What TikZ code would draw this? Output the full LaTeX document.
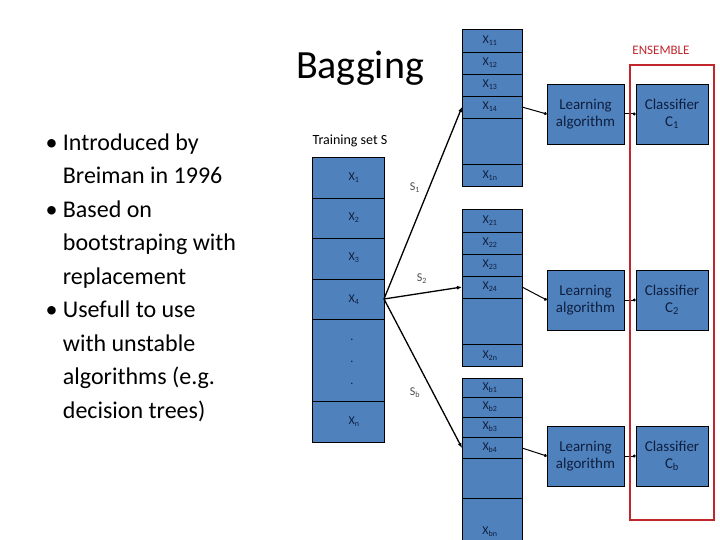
\documentclass[tikz,border=0pt]{standalone}
\usepackage{fontspec}
\setmainfont{Carlito}
\usetikzlibrary{arrows.meta}
\definecolor{bbox}{HTML}{4F81BD}
\definecolor{btxt}{HTML}{0F1F3F}
\definecolor{ered}{HTML}{C0272D}
\begin{document}
\begin{tikzpicture}[x=1pt,y=-1pt,
  cell/.style={draw=black,fill=bbox,line width=0.6pt},
  ctext/.style={text=btxt,font=\fontsize{12}{12}\selectfont},
  abox/.style={draw=black,fill=bbox,line width=0.6pt,minimum width=77pt,minimum height=60pt,align=center,text=btxt,font=\fontsize{15}{17}\selectfont,inner sep=1pt},
  cbox/.style={abox,minimum width=72pt},
  arr/.style={-{Latex[length=5pt,width=4pt]},line width=1.3pt},
  sarr/.style={-{Circle[length=3pt]},line width=1pt}]
\useasboundingbox (0,0) rectangle (720,540);
\fill[white] (0,0) rectangle (720,540);
\node[font=\fontsize{40}{40}\selectfont] (title) at (360,68) {Bagging};
\node[anchor=north west,align=left,font=\fontsize{24}{33.5}\selectfont] (bul) at (42,130) {%
\textbullet\ Introduced by\\[-0pt]
\phantom{\textbullet\ }Breiman in 1996\\
\textbullet\ Based on\\
\phantom{\textbullet\ }bootstraping with\\
\phantom{\textbullet\ }replacement\\
\textbullet\ Usefull to use\\
\phantom{\textbullet\ }with unstable\\
\phantom{\textbullet\ }algorithms (e.g.\\
\phantom{\textbullet\ }decision trees)};
\node[font=\fontsize{14}{14}\selectfont] (ts) at (350,141) {Training set S};
% training set
\foreach \a/\b in {157/198,198/238,238/279,279/319,319/401,401/442} \draw[cell] (312,\a) rectangle (384,\b);
\node[ctext] (t1) at (354,178) {X\textsubscript{1}};
\node[ctext] (t2) at (354,218) {X\textsubscript{2}};
\node[ctext] (t3) at (354,258) {X\textsubscript{3}};
\node[ctext] (t4) at (354,300) {X\textsubscript{4}};
\node[ctext,align=center,font=\fontsize{12}{22}\selectfont] (td) at (352,362) {.\\.\\.};
\node[ctext] (tn) at (354,422) {X\textsubscript{n}};
\coordinate (src) at (384,299);
% sample boxes
\foreach \r [count=\k] in {29/52/74/96/118/164/186, 209/232/254/276/298/344/366} {}
\newcommand\bagbox[8]{%
  \draw[cell] (462,#1) rectangle (522,#2);
  \draw[cell] (462,#2) rectangle (522,#3);
  \draw[cell] (462,#3) rectangle (522,#4);
  \draw[cell] (462,#4) rectangle (522,#5);
  \draw[cell] (462,#5) rectangle (522,#6);
  \draw[cell] (462,#6) rectangle (522,#7);}
\bagbox{29}{52}{74}{96}{118}{164}{186}{}
\bagbox{209}{232}{254}{276}{298}{344}{366}{}
\bagbox{378}{397}{417}{437}{458}{498}{540}{}
\foreach \i/\y in {1/41,2/63,3/85,4/107} \node[ctext] (a\i) at (490,\y) {X\textsubscript{1\i}};
\node[ctext] (an) at (490,186) {};
\node[ctext] (ann) at (490,176) {X\textsubscript{1n}};
\foreach \i/\y in {1/221,2/243,3/265,4/287} \node[ctext] (b\i) at (490,\y) {X\textsubscript{2\i}};
\node[ctext] (bnn) at (490,356) {X\textsubscript{2n}};
\foreach \i/\y in {1/388,2/407,3/427,4/448} \node[ctext] (c\i) at (490,\y) {X\textsubscript{b\i}};
\node[ctext] (cnn) at (490,532) {X\textsubscript{bn}};
\coordinate (in1) at (462,107);
\coordinate (in2) at (462,287);
\coordinate (in3) at (462,448);
\draw[arr] (src) -- (in1);
\draw[arr] (src) -- (in2);
\draw[arr] (src) -- (in3);
\node[font=\fontsize{12}{12}\selectfont,text=black!70] (s1) at (415,188) {S\textsubscript{1}};
\node[font=\fontsize{12}{12}\selectfont,text=black!70] (s2) at (422,279) {S\textsubscript{2}};
\node[font=\fontsize{12}{12}\selectfont,text=black!70] (sb) at (415,393) {S\textsubscript{b}};
% learning + classifier
\node[abox] (l1) at (585.5,114) {Learning\\algorithm};
\node[abox] (l2) at (585.5,300) {Learning\\algorithm};
\node[abox] (l3) at (585.5,456) {Learning\\algorithm};
\node[cbox] (k1) at (672,114) {Classifier\\C\textsubscript{1}};
\node[cbox] (k2) at (672,300) {Classifier\\C\textsubscript{2}};
\node[cbox] (k3) at (672,456) {Classifier\\C\textsubscript{b}};
\coordinate (o1) at (522,107);
\coordinate (o2) at (522,287);
\coordinate (o3) at (522,448);
\draw[sarr] (o1) -- (l1.west);
\draw[sarr] (o2) -- (l2.west);
\draw[sarr] (o3) -- (l3.west);
\draw[sarr] (l1) -- (k1);
\draw[sarr] (l2) -- (k2);
\draw[sarr] (l3) -- (k3);
\node[draw=ered,line width=2.2pt,minimum width=84pt,minimum height=455pt] (ens) at (672,292.5) {};
\node[text=ered,font=\fontsize{13}{13}\selectfont] (enl) at (661,50) {ENSEMBLE};
\end{tikzpicture}
\end{document}
